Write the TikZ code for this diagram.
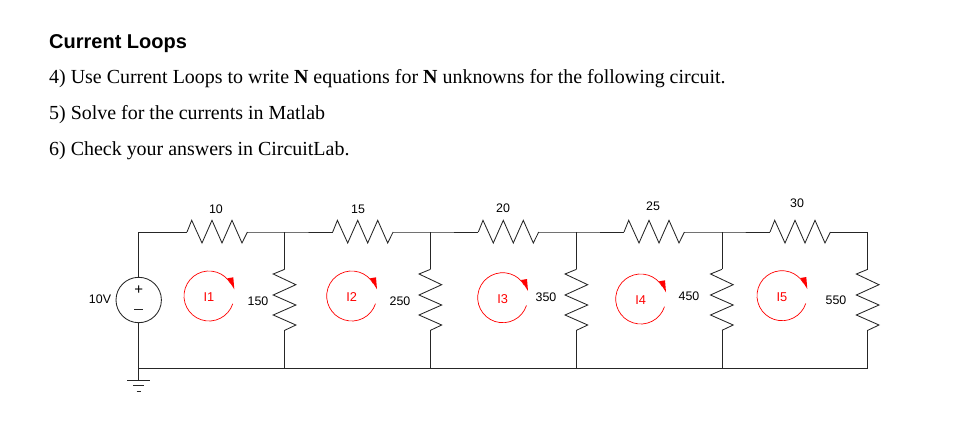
\documentclass[tikz,border=0pt]{standalone}
\usepackage{fontspec}
\setmainfont{Liberation Serif}
\setsansfont{Liberation Sans}
\definecolor{loopred}{RGB}{255,0,0}
\tikzset{
  wire/.style={line width=0.85pt, black!85},
  head/.style={anchor=base west, inner sep=0pt, font=\sffamily\bfseries\fontsize{20}{23}\selectfont},
  body/.style={anchor=base west, inner sep=0pt, font=\fontsize{19.95}{24}\selectfont},
  value/.style={inner sep=0pt, font=\sffamily\fontsize{12.4}{14}\selectfont},
  loopname/.style={inner sep=0pt, text=loopred, font=\sffamily\fontsize{12.8}{14}\selectfont},
}
\begin{document}
\begin{tikzpicture}[x=1pt, y=-1pt]
\newcommand{\Topy}{232}; % top rail
\newcommand{\Boty}{368}; % bottom rail
\newcommand{\Reswid}{60.4}; % horizontal resistor length
\newcommand{\Looprad}{25}; % current loop radius
% horizontal resistor starting at a named point
\newcommand{\Hres}[1]{\draw[wire] (#1) -- ++(4.7,-11.7) -- ++(10.3,22.7) -- ++(10,-22.7) -- ++(10,22.7) -- ++(10,-22.7) -- ++(10,22.7) -- ++(5.4,-11)}
% vertical resistor hanging from a named point
\newcommand{\Vres}[1]{\draw[wire] (#1) -- ++(-11.5,4.7) -- ++(22.7,10.7) -- ++(-22.7,10.3) -- ++(22.7,10) -- ++(-22.7,10) -- ++(22.7,10) -- ++(-11.2,5.3)}
% current loop: centre, then the name of its label
\newcommand{\Iloop}[3]{
  \draw[loopred, line width=0.7pt] (#1,#2) ++(18:\Looprad) arc[radius=\Looprad, start angle=18, end angle=330];
  \fill[loopred] (#1,#2) ++(18.3,-17.7) -- ++(6,-1) -- ++(1,12) -- cycle;
  \node[loopname] (#3) at (#1,#2+1.3) {#3};
}

\useasboundingbox (0,0) rectangle (954,432);

\node[head] (title) at (49,48.4) {Current Loops};
\node[body] (line4) at (49,83) {4) Use Current Loops to write \textbf{N} equations for \textbf{N} unknowns for the following circuit.};
\node[body] (line5) at (49,119) {5) Solve for the currents in Matlab};
\node[body] (line6) at (49,155) {6) Check your answers in CircuitLab.};

% top rail
\coordinate (T0) at (138.7,\Topy);
\coordinate (T1) at (284.7,\Topy);
\coordinate (T2) at (430.5,\Topy);
\coordinate (T3) at (576.5,\Topy);
\coordinate (T4) at (722,\Topy);
\coordinate (T5) at (867.8,\Topy);
% bottom rail
\coordinate (B0) at (138.7,\Boty);
\coordinate (B1) at (284.7,\Boty);
\coordinate (B2) at (430.5,\Boty);
\coordinate (B3) at (576.5,\Boty);
\coordinate (B4) at (722,\Boty);
\coordinate (B5) at (867.8,\Boty);
% resistor ends, top rail
\coordinate (Ha) at (187,\Topy);
\coordinate (Hb) at (332.7,\Topy);
\coordinate (Hc) at (478.3,\Topy);
\coordinate (Hd) at (624,\Topy);
\coordinate (He) at (770,\Topy);
\coordinate (Ha2) at (187+\Reswid,\Topy);
\coordinate (Hb2) at (332.7+\Reswid,\Topy);
\coordinate (Hc2) at (478.3+\Reswid,\Topy);
\coordinate (Hd2) at (624+\Reswid,\Topy);
\coordinate (He2) at (770+\Reswid,\Topy);
% resistor ends, legs
\coordinate (Va) at (284.7,269.3);
\coordinate (Vb) at (430.5,269.3);
\coordinate (Vc) at (576.5,269.3);
\coordinate (Vd) at (722,269.3);
\coordinate (Ve) at (867.8,269.3);
\coordinate (Va2) at (284.7,330.3);
\coordinate (Vb2) at (430.5,330.3);
\coordinate (Vc2) at (576.5,330.3);
\coordinate (Vd2) at (722,330.3);
\coordinate (Ve2) at (867.8,330.3);

% source
\node[draw, wire, circle, minimum size=45.4pt, inner sep=0pt] (src) at (138.7,300) {};
\node[value, font=\sffamily\fontsize{15}{15}\selectfont] (plus) at (138.7,290.4) {+};
\draw[wire] (134.2,309) -- (143.2,309);
\node[value] (srcval) at (100,299.5) {10V};

% wires
\draw[wire] (src.north) -- (T0) -- (Ha);
\draw[wire] (Ha2) -- (T1) -- (Hb);
\draw[wire] (Hb2) -- (T2) -- (Hc);
\draw[wire] (Hc2) -- (T3) -- (Hd);
\draw[wire] (Hd2) -- (T4) -- (He);
\draw[wire] (He2) -- (T5) -- (Ve);
\draw[wire] (T1) -- (Va);
\draw[wire] (T2) -- (Vb);
\draw[wire] (T3) -- (Vc);
\draw[wire] (T4) -- (Vd);
\draw[wire] (Va2) -- (B1);
\draw[wire] (Vb2) -- (B2);
\draw[wire] (Vc2) -- (B3);
\draw[wire] (Vd2) -- (B4);
\draw[wire] (Ve2) -- (B5);
\draw[wire] (src.south) -- (B0) -- (B5);

% resistors
\Hres{Ha};
\Hres{Hb};
\Hres{Hc};
\Hres{Hd};
\Hres{He};
\Vres{Va};
\Vres{Vb};
\Vres{Vc};
\Vres{Vd};
\Vres{Ve};

% ground
\coordinate (G) at (138.7,380);
\draw[wire] (B0) -- (G);
\draw[wire] (127.2,380) -- (150.2,380);
\draw[wire] (133.2,385.7) -- (144.2,385.7);
\draw[wire] (136.7,391) -- (140.7,391);

% values
\node[value] (r10) at (216,209.5) {10};
\node[value] (r15) at (358,209.5) {15};
\node[value] (r20) at (503,208.5) {20};
\node[value] (r25) at (653,206.5) {25};
\node[value] (r30) at (797,203) {30};
\node[value] (r150) at (258,301.5) {150};
\node[value] (r250) at (400,301.5) {250};
\node[value] (r350) at (546,297) {350};
\node[value] (r450) at (689,296) {450};
\node[value] (r550) at (836,300.5) {550};

% loops
\Iloop{209}{296}{I1}
\Iloop{351.7}{296}{I2}
\Iloop{502.7}{297.7}{I3}
\Iloop{640.7}{299}{I4}
\Iloop{782}{295.7}{I5}
\end{tikzpicture}
\end{document}
